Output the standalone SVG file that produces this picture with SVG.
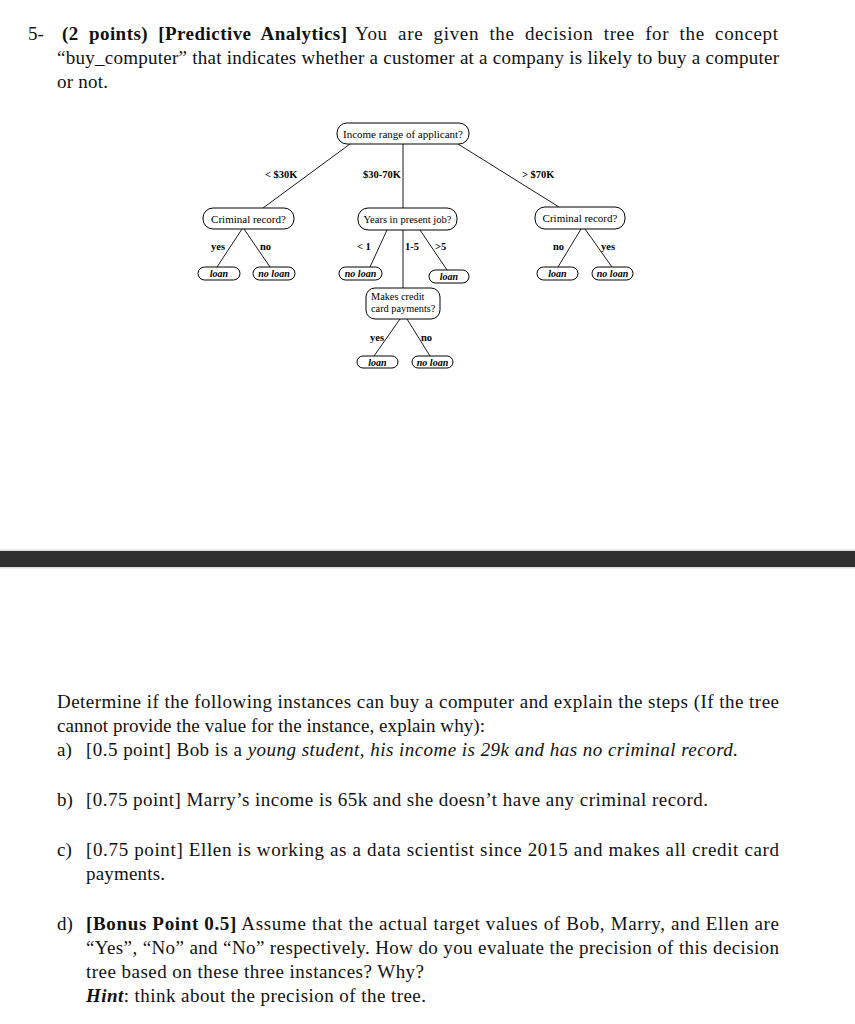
<svg xmlns="http://www.w3.org/2000/svg" width="855" height="1024" viewBox="0 0 855 1024">
<style>
  .doc { font-family: "Liberation Serif", "Times New Roman", serif; font-size: 19px; fill: #111; }
  .b { font-weight: bold; }
  .i { font-style: italic; }
  .ws { word-spacing: 5px; }
  .node { fill: #fff; stroke: #000; stroke-width: 1; }
  .nt { font-family: "Liberation Serif", serif; font-size: 11px; fill: #000; text-anchor: middle; }
  .nts { font-family: "Liberation Serif", serif; font-size: 10.3px; fill: #000; }
  .lt { font-family: "Liberation Serif", serif; font-size: 10px; fill: #000; text-anchor: middle; font-style: italic; font-weight: bold; }
  .el { font-family: "Liberation Serif", serif; font-size: 10.5px; fill: #000; font-weight: bold; }
  .edge { stroke: #000; stroke-width: 0.9; fill: none; }
</style>
<rect x="0" y="0" width="855" height="1024" fill="#fff"/>

<g id="question-header">
  <text class="doc" x="28" y="40">5-</text>
  <text class="doc b ws" x="62" y="40" textLength="285" lengthAdjust="spacing">(2 points) [Predictive Analytics]</text>
  <text class="doc ws" x="355" y="40" textLength="423" lengthAdjust="spacing">You are given the decision tree for the concept</text>
  <text class="doc" x="57" y="64" textLength="722" lengthAdjust="spacing">“buy_computer” that indicates whether a customer at a company is likely to buy a computer</text>
  <text class="doc" x="57" y="88" textLength="51" lengthAdjust="spacing">or not.</text>
</g>

<g id="connectors">
  <line class="edge" x1="350" y1="144" x2="263" y2="208"/>
  <line class="edge" x1="403" y1="144" x2="403" y2="208"/>
  <line class="edge" x1="458" y1="144" x2="559" y2="207"/>
  <line class="edge" x1="242" y1="229" x2="217" y2="267"/>
  <line class="edge" x1="244" y1="229" x2="270" y2="267"/>
  <line class="edge" x1="387" y1="230" x2="370" y2="267"/>
  <line class="edge" x1="403" y1="230" x2="403" y2="288"/>
  <line class="edge" x1="420" y1="230" x2="447" y2="270"/>
  <line class="edge" x1="581" y1="229" x2="558" y2="267"/>
  <line class="edge" x1="585" y1="229" x2="612" y2="267"/>
  <line class="edge" x1="400" y1="319" x2="374" y2="356"/>
  <line class="edge" x1="407" y1="319" x2="430" y2="356"/>
  <text class="el" x="265" y="178">&lt; $30K</text>
  <text class="el" x="363" y="178">$30-70K</text>
  <text class="el" x="522" y="178">&gt; $70K</text>
  <text class="el" x="211" y="250">yes</text>
  <text class="el" x="260" y="250">no</text>
  <text class="el" x="357" y="250">&lt; 1</text>
  <text class="el" x="405" y="250">1-5</text>
  <text class="el" x="435" y="250">&gt;5</text>
  <text class="el" x="553" y="250">no</text>
  <text class="el" x="601" y="250">yes</text>
  <text class="el" x="370" y="341">yes</text>
  <text class="el" x="421" y="341">no</text>
</g>

<g id="node-income">
  <rect class="node" x="337" y="123" width="132" height="21" rx="10"/>
  <text class="nt" x="403" y="137.5">Income range of applicant?</text>
</g>
<g id="node-criminal-left">
  <rect class="node" x="203" y="208" width="91" height="21" rx="10"/>
  <text class="nt" x="248.5" y="222.5">Criminal record?</text>
</g>
<g id="node-years">
  <rect class="node" x="358" y="208" width="99" height="22" rx="10"/>
  <text class="nt" x="407.5" y="223" style="font-size:10.5px">Years in present job?</text>
</g>
<g id="node-criminal-right">
  <rect class="node" x="535" y="207" width="90" height="22" rx="10"/>
  <text class="nt" x="580" y="222">Criminal record?</text>
</g>
<g id="node-credit">
  <rect class="node" x="366" y="288" width="74" height="31" rx="9"/>
  <text class="nts" x="371" y="300">Makes credit</text>
  <text class="nts" x="371" y="311.5">card payments?</text>
</g>

<g id="leaf-l-loan">
  <rect class="node" x="198" y="267" width="42" height="13" rx="6.5"/>
  <text class="lt" x="219" y="277">loan</text>
</g>
<g id="leaf-l-noloan">
  <rect class="node" x="253" y="267" width="42" height="13" rx="6.5"/>
  <text class="lt" x="274" y="277">no loan</text>
</g>
<g id="leaf-m-noloan">
  <rect class="node" x="339" y="267" width="43" height="13" rx="6.5"/>
  <text class="lt" x="360.5" y="277">no loan</text>
</g>
<g id="leaf-m-loan">
  <rect class="node" x="429" y="270" width="40" height="13" rx="6.5"/>
  <text class="lt" x="449" y="280">loan</text>
</g>
<g id="leaf-r-loan">
  <rect class="node" x="537" y="267" width="41" height="13" rx="6.5"/>
  <text class="lt" x="557.5" y="277">loan</text>
</g>
<g id="leaf-r-noloan">
  <rect class="node" x="592" y="267" width="41" height="13" rx="6.5"/>
  <text class="lt" x="612.5" y="277">no loan</text>
</g>
<g id="leaf-c-loan">
  <rect class="node" x="357" y="356" width="41" height="12" rx="6"/>
  <text class="lt" x="377.5" y="365.5">loan</text>
</g>
<g id="leaf-c-noloan">
  <rect class="node" x="412" y="356" width="41" height="12" rx="6"/>
  <text class="lt" x="432.5" y="365.5">no loan</text>
</g>

<g id="separator">
  <rect x="0" y="549.5" width="855" height="19" fill="#dcdcdc"/>
  <rect x="0" y="551" width="855" height="16" fill="#2f2f2f"/>
</g>

<g id="question-body">
  <text class="doc" x="57" y="708" textLength="722" lengthAdjust="spacing">Determine if the following instances can buy a computer and explain the steps (If the tree</text>
  <text class="doc" x="57" y="732" textLength="428" lengthAdjust="spacing">cannot provide the value for the instance, explain why):</text>
  <text class="doc" x="57" y="756">a)</text>
  <text class="doc" x="86" y="756" textLength="652" lengthAdjust="spacing">[0.5 point] Bob is a <tspan class="i">young student, his income is 29k and has no criminal record.</tspan></text>
  <text class="doc" x="57" y="806">b)</text>
  <text class="doc" x="86" y="806" textLength="622" lengthAdjust="spacing">[0.75 point] Marry’s income is 65k and she doesn’t have any criminal record.</text>
  <text class="doc" x="57" y="856">c)</text>
  <text class="doc" x="86" y="856" textLength="693" lengthAdjust="spacing">[0.75 point] Ellen is working as a data scientist since 2015 and makes all credit card</text>
  <text class="doc" x="86" y="880" textLength="79" lengthAdjust="spacing">payments.</text>
  <text class="doc" x="57" y="930">d)</text>
  <text class="doc" x="86" y="930" textLength="693" lengthAdjust="spacing"><tspan class="b">[Bonus Point 0.5]</tspan> Assume that the actual target values of Bob, Marry, and Ellen are</text>
  <text class="doc" x="86" y="954" textLength="693" lengthAdjust="spacing">“Yes”, “No” and “No” respectively. How do you evaluate the precision of this decision</text>
  <text class="doc" x="86" y="978" textLength="338" lengthAdjust="spacing">tree based on these three instances? Why?</text>
  <text class="doc" x="86" y="1002" textLength="340" lengthAdjust="spacing"><tspan class="b i">Hint</tspan>: think about the precision of the tree.</text>
</g>
</svg>
